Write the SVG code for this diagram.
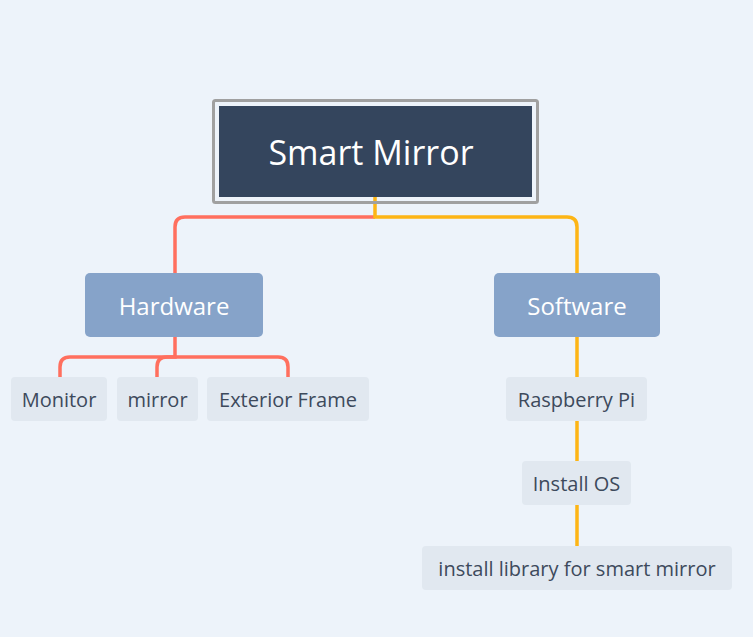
<svg xmlns="http://www.w3.org/2000/svg" width="753" height="637" viewBox="0 0 753 637">
<style>
.t{font-family:"Open Sans","Noto Sans",sans-serif;text-anchor:middle;dominant-baseline:central}
.leaf rect{fill:#e1e8f0}
.leaf text{fill:#3d4a5c;font-size:20px}
.main rect{fill:#86a3c9}
.main text{fill:#fff;font-size:24px}
.r{fill:none;stroke:#ff6f5e;stroke-width:3.5}
.y{fill:none;stroke:#fdb515;stroke-width:3.5}
</style>
<rect width="753" height="637" fill="#edf3fa"/>
<g id="connectors">
<path class="r" d="M375 217 H185 Q175 217 175 227 V273"/>
<path class="y" d="M375 197 V217 H567 Q577 217 577 227 V273"/>
<path class="r" d="M175 337 V357 H70 Q60 357 60 367 V377"/>
<path class="r" d="M175 357 H167 Q157 357 157 367 V377"/>
<path class="r" d="M175 357 H278 Q288 357 288 367 V377"/>
<path class="y" d="M577 337 V377 M577 421 V461 M577 505 V546"/>
</g>
<g id="root">
<rect x="213.5" y="100.5" width="324" height="102" fill="none" stroke="#a0a0a0" stroke-width="3" rx="2"/>
<rect x="219" y="106" width="313" height="91" fill="#34455d"/>
<text class="t" x="371" y="152" fill="#fff" font-size="34">Smart Mirror</text>
</g>
<g id="hardware" class="main"><rect x="85" y="273" width="178" height="64" rx="5"/><text class="t" x="174" y="305">Hardware</text></g>
<g id="software" class="main"><rect x="494" y="273" width="166" height="64" rx="5"/><text class="t" x="577" y="305">Software</text></g>
<g id="monitor" class="leaf"><rect x="11" y="377" width="96" height="44" rx="4"/><text class="t" x="59" y="399">Monitor</text></g>
<g id="mirror" class="leaf"><rect x="117" y="377" width="81" height="44" rx="4"/><text class="t" x="157.5" y="399">mirror</text></g>
<g id="frame" class="leaf"><rect x="207" y="377" width="162" height="44" rx="4"/><text class="t" x="288" y="399">Exterior Frame</text></g>
<g id="rpi" class="leaf"><rect x="506" y="377" width="141" height="44" rx="4"/><text class="t" x="576.5" y="399">Raspberry Pi</text></g>
<g id="os" class="leaf"><rect x="522" y="461" width="109" height="44" rx="4"/><text class="t" x="576.5" y="483">Install OS</text></g>
<g id="lib" class="leaf"><rect x="422" y="546" width="310" height="44" rx="4"/><text class="t" x="577" y="568">install library for smart mirror</text></g>
</svg>
